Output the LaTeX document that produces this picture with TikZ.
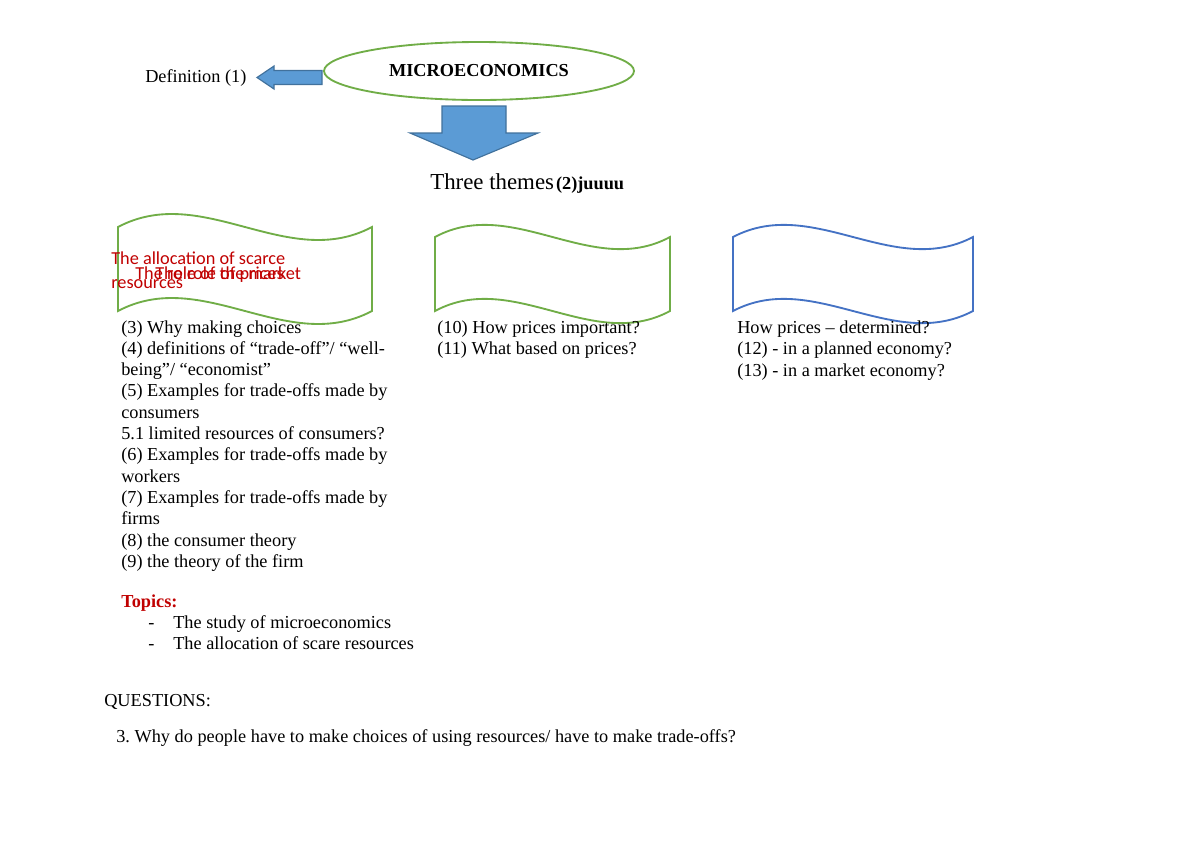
\documentclass[tikz,border=0pt]{standalone}
\usepackage{fontspec}
\setmainfont{Liberation Serif}
\newfontfamily\calfont{Carlito}
\usetikzlibrary{shapes.geometric,positioning,calc}
\definecolor{gn}{HTML}{70AD47}
\definecolor{bu}{HTML}{4472C4}
\definecolor{af}{HTML}{5B9BD5}
\definecolor{ad}{HTML}{41719C}
\definecolor{rd}{HTML}{C00000}
\newcommand{\txt}{\fontsize{12.8}{14.9}\selectfont}
\frenchspacing

\begin{document}
\begin{tikzpicture}[x=0.7pt,y=-0.7pt,
  t/.style={anchor=base west,inner sep=0pt,font=\txt},
  r/.style={t,font=\calfont\txt,text=rd},
  wave/.style={line width=1.3pt},
  blk/.style={fill=af,draw=ad,line width=0.8pt,line join=miter}]
\useasboundingbox (0,0) rectangle (1200,849);
% title
\node[ellipse,draw=gn,line width=1.3pt,inner sep=0pt,
  minimum width=217pt,minimum height=40.6pt,font=\txt\bfseries](micro) at (479,71){MICROECONOMICS};
\node[t](def) at (145,82){Definition (1)};
\node[t,font=\fontsize{16}{18}\selectfont](themes) at (430,189){Three themes};
\node[t,font=\txt\bfseries,right=1pt of themes.base east,anchor=base west](two){(2)juuuu};
% block arrows
\coordinate (lt) at (257,77.5);
\coordinate (dt) at (473,160);
\draw[blk](322,70.5)--(274,70.5)--(274,66)--(lt)--(274,89)--(274,84.5)--(322,84.5)--cycle;
\draw[blk](442,106)--(506,106)--(506,133)--(538,133)--(dt)--(410,133)--(442,133)--cycle;
% banners
\draw[wave,draw=gn](118,227) .. controls (203,182) and (287,272) .. (372,227)
  -- (372,311) .. controls (287,356) and (203,266) .. (118,311) -- cycle;
\draw[wave,draw=gn](435,237) .. controls (513,195) and (592,279) .. (670,237)
  -- (670,311) .. controls (592,353) and (513,269) .. (435,311) -- cycle;
\draw[wave,draw=bu](733,237) .. controls (813,195) and (893,279) .. (973,237)
  -- (973,311) .. controls (893,353) and (813,269) .. (733,311) -- cycle;
\node[r](alloc1) at (111,264){The allocation of scarce};
\node[r](alloc2) at (111,288){resources};
\node[r](market) at (135,279){The role of the market};
\node[r](prices) at (155,279){The role of prices};
% lists
\foreach \s [count=\i] in {(3) Why making choices,
  (4) definitions of “trade-off”/ “well-,
  being”/ “economist”,
  (5) Examples for trade-offs made by,
  consumers,
  5.1 limited resources of consumers?,
  (6) Examples for trade-offs made by,
  workers,
  (7) Examples for trade-offs made by,
  firms,
  (8) the consumer theory,
  (9) the theory of the firm}
  \node[t](left\i) at (121,{333+(\i-1)*21.3}){\s};
\foreach \s [count=\i] in {(10) How prices important?,(11) What based on prices?}
  \node[t](mid\i) at (437,{333+(\i-1)*21.5}){\s};
\foreach \s [count=\i] in {How prices – determined?,(12) - in a planned economy?,(13) - in a market economy?}
  \node[t](right\i) at (737,{333+(\i-1)*21.5}){\s};
\node[t,font=\txt\bfseries,text=rd](topics) at (121,607){Topics:};
\foreach \y/\s [count=\i] in {628/The study of microeconomics,649/The allocation of scare resources}{
  \node[t](dash\i) at (148,\y){-};
  \node[t](topic\i) at (173,\y){\s};
}
\node[t](quest) at (104,706){QUESTIONS:};
\node[t](q3) at (116,742){3. Why do people have to make choices of using resources/ have to make trade-offs?};
\end{tikzpicture}
\end{document}
